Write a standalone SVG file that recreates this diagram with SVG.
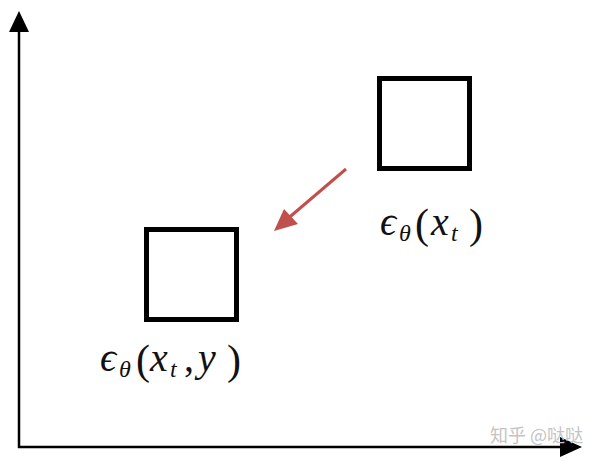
<svg xmlns="http://www.w3.org/2000/svg" width="600" height="461" viewBox="0 0 600 461">
<style>
.box{fill:none;stroke:#000;stroke-width:5}
.axis{stroke:#000;stroke-width:2.5;fill:none}
.math{font-family:"Liberation Serif","DejaVu Serif",serif;font-size:40px;fill:#111}
.it{font-style:italic}
.sub{font-size:24px;font-style:italic}
.par{font-size:42px;font-style:normal}
.wm{font-family:"Noto Sans CJK SC","Liberation Sans",sans-serif;font-size:18px;fill:#c4c4c4}
</style>
<g id="connectors">
<line class="axis" x1="19" y1="448" x2="19" y2="30"/>
<path d="M9,32 L19,11 L29,32 z" fill="#000"/>
<line class="axis" x1="18" y1="447" x2="562" y2="447"/>
<path d="M560,437 L582,447 L560,457 z" fill="#000"/>
<line x1="346" y1="169" x2="285" y2="221" stroke="#c0504d" stroke-width="3"/>
<path d="M274,231 L284,209 L298,224 z" fill="#c0504d"/>
</g>
<g id="node-xt-y">
<rect class="box" x="146.5" y="229.5" width="90" height="90"/>
<text class="math" y="371"><tspan class="it" x="100">ϵ</tspan><tspan class="sub" x="119" y="377">θ</tspan><tspan class="par" x="136" y="374">(</tspan><tspan class="it" x="150" y="371">x</tspan><tspan class="sub" x="170" y="377">t</tspan><tspan x="184" y="371">,</tspan><tspan class="it" x="198">y</tspan><tspan class="par" x="227" y="374">)</tspan></text>
</g>
<g id="node-xt">
<rect class="box" x="379.5" y="78.5" width="90" height="90"/>
<text class="math" y="235"><tspan class="it" x="380">ϵ</tspan><tspan class="sub" x="399" y="241">θ</tspan><tspan class="par" x="415" y="238">(</tspan><tspan class="it" x="431" y="235">x</tspan><tspan class="sub" x="451" y="241">t</tspan><tspan class="par" x="469" y="238">)</tspan></text>
</g>
<text class="wm" x="490" y="442">知乎 @哒哒</text>
</svg>
